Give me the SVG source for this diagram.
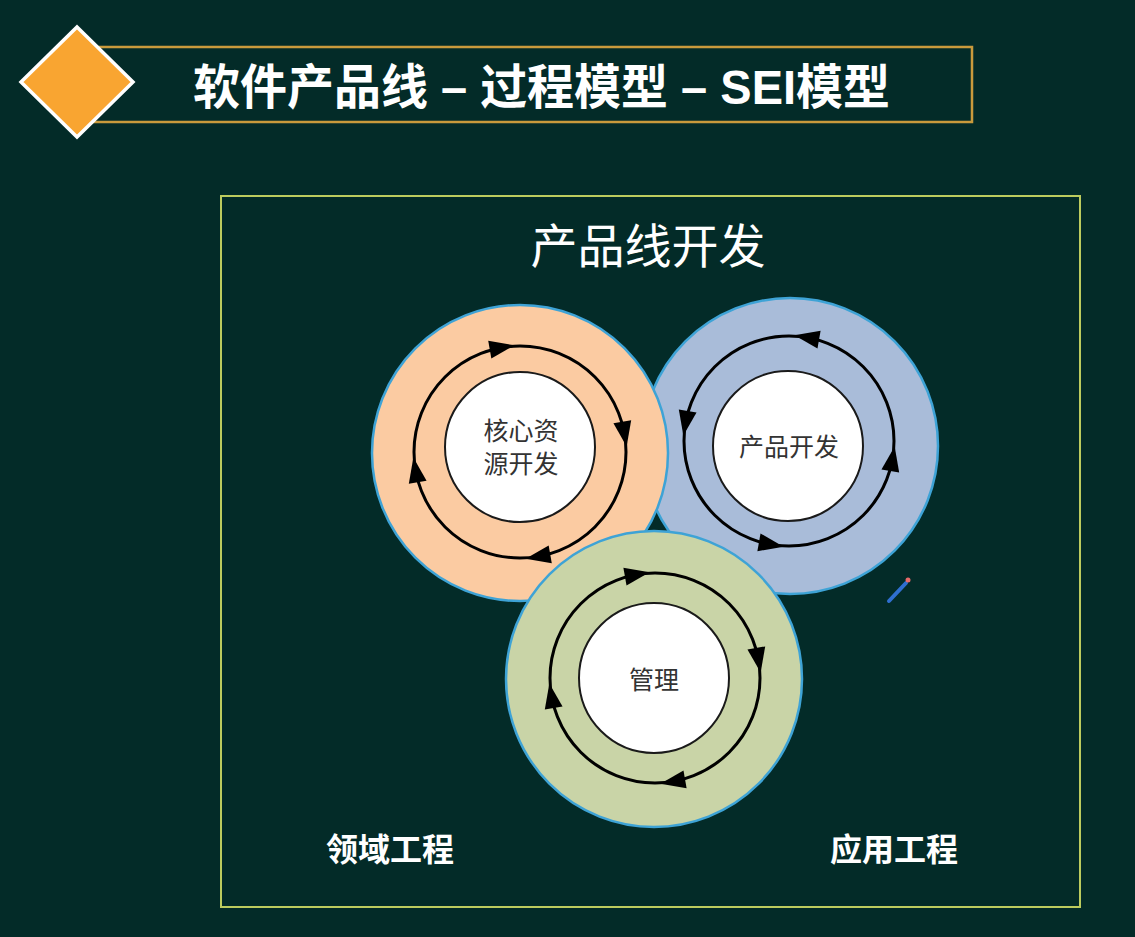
<svg xmlns="http://www.w3.org/2000/svg" xmlns:xlink="http://www.w3.org/1999/xlink" width="1135" height="937" viewBox="0 0 1135 937">
<style>
.outer{stroke:#3ea3d6;stroke-width:2.5}
.inner{fill:#ffffff;stroke:#1a1a1a;stroke-width:2}
.ring{fill:none;stroke:#000;stroke-width:3}
.lbl{font-family:"Noto Sans CJK SC","Liberation Sans",sans-serif;font-size:25px;fill:#333;text-anchor:middle}
.wt{font-family:"Liberation Sans","Noto Sans CJK SC",sans-serif;fill:#fff}
</style>
<defs>
<path id="ah" d="M13,0 L-12,-9 L-12,9 Z" fill="#000"/>
</defs>
<rect width="1135" height="937" fill="#032b28"/>
<g id="title">
<rect x="90" y="47" width="882" height="75" fill="#032b28" stroke="#c99a3c" stroke-width="2.5"/>
<polygon points="77,27 133,82 77,137 21,82" fill="#f9a531" stroke="#ffffff" stroke-width="3.5"/>
<text class="wt" x="193" y="104" font-size="48" font-weight="bold" textLength="697" lengthAdjust="spacingAndGlyphs">软件产品线 – 过程模型 – SEI模型</text>
</g>
<g id="frame">
<rect x="221" y="196" width="859" height="711" fill="none" stroke="#bccb5e" stroke-width="2"/>
<text class="wt" x="648" y="263" font-size="47" text-anchor="middle">产品线开发</text>
</g>
<g id="product-dev">
<circle class="outer" cx="790" cy="446" r="148" fill="#a9bcd9"/>
<circle class="inner" cx="788" cy="446" r="75"/>
<g transform="translate(789,441)">
<circle class="ring" r="105"/>
<use xlink:href="#ah" transform="rotate(10) translate(0,-105) scale(-1,1)"/>
<use xlink:href="#ah" transform="rotate(100) translate(0,-105) scale(-1,1)"/>
<use xlink:href="#ah" transform="rotate(190) translate(0,-105) scale(-1,1)"/>
<use xlink:href="#ah" transform="rotate(280) translate(0,-105) scale(-1,1)"/>
</g>
<text class="lbl" x="789" y="456">产品开发</text>
</g>
<g id="core-asset">
<circle class="outer" cx="520" cy="453" r="148" fill="#fbcba2"/>
<circle class="inner" cx="520" cy="447" r="75"/>
<g transform="translate(520,452)">
<circle class="ring" r="106"/>
<use xlink:href="#ah" transform="rotate(-10) translate(0,-106)"/>
<use xlink:href="#ah" transform="rotate(80) translate(0,-106)"/>
<use xlink:href="#ah" transform="rotate(170) translate(0,-106)"/>
<use xlink:href="#ah" transform="rotate(260) translate(0,-106)"/>
</g>
<text class="lbl" x="521" y="440" font-size="24">核心资</text>
<text class="lbl" x="521" y="473" font-size="24">源开发</text>
</g>
<g id="management">
<circle class="outer" cx="654" cy="679" r="148" fill="#c9d4a7"/>
<circle class="inner" cx="654" cy="678" r="75"/>
<g transform="translate(655,678)">
<circle class="ring" r="105"/>
<use xlink:href="#ah" transform="rotate(-10) translate(0,-105)"/>
<use xlink:href="#ah" transform="rotate(80) translate(0,-105)"/>
<use xlink:href="#ah" transform="rotate(170) translate(0,-105)"/>
<use xlink:href="#ah" transform="rotate(260) translate(0,-105)"/>
</g>
<text class="lbl" x="654" y="689">管理</text>
</g>
<g id="labels">
<text class="wt" x="390" y="861" font-size="32" font-weight="bold" text-anchor="middle">领域工程</text>
<text class="wt" x="894" y="861" font-size="32" font-weight="bold" text-anchor="middle">应用工程</text>
</g>
<g id="pencil">
<line x1="889" y1="601" x2="906" y2="583" stroke="#2f6fd0" stroke-width="4" stroke-linecap="round"/>
<circle cx="908" cy="580" r="2.5" fill="#e86a6a"/>
</g>
</svg>
